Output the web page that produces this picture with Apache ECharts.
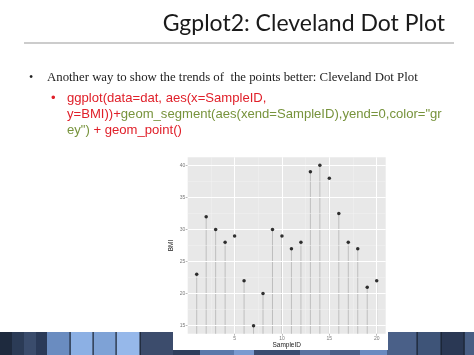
<!DOCTYPE html>
<html><head><meta charset="utf-8">
<script src="https://cdn.jsdelivr.net/npm/echarts@6/dist/echarts.min.js"></script>
<style>html,body{margin:0;padding:0;background:#fff}#c{width:474px;height:355px}</style>
</head><body><div id="c"></div>
<script>
// ---- data ----
const sampleIDs = [1,2,3,4,5,6,7,8,9,10,11,12,13,14,15,16,17,18,19,20];
const bmi = [23,32,30,28,29,22,15,20,30,29,27,28,39,40,38,32.5,28,27,21,22];
const xTicks = [5,10,15,20];
const yTicks = [15,20,25,30,35,40];
const xMinor = [2.5,7.5,12.5,17.5];
const yMinor = [17.5,22.5,27.5,32.5,37.5];
const slideTitle = 'Ggplot2: Cleveland Dot Plot';
const bulletText = 'Another way to show the trends of  the points better: Cleveland Dot Plot';

const pts = sampleIDs.map((x,i)=>[x,bmi[i]]);
const chart = echarts.init(document.getElementById('c'), null, {renderer:'canvas'});

const band = [
 [0,12,'#1e2a3e'],[12,24,'#2b3b56'],[24,36,'#3a4c6c'],[36,47,'#2a3a58'],
 [47,70,'#6a8cc0'],[70,93,'#8cb0e4'],[93,116,'#7ea2d6'],[116,140,'#96b8ea'],
 [140,173,'#3c4c6c'],[173,200,'#2e3e5c'],[200,234,'#5a78aa'],[234,254,'#7a9ad0'],
 [254,300,'#3a4c70'],[300,330,'#5a72a0'],[330,360,'#4a5f88'],[360,387,'#6a8ac0'],
 [387,417,'#4a6088'],[417,441,'#3e5478'],[441,464,'#2a3854'],[464,474,'#485e84']
];
const seps = [70,93,116,140,417,441,464];
const graphics = [];
band.forEach(b=>graphics.push({type:'rect',z:0,shape:{x:b[0],y:332,width:b[1]-b[0],height:23},style:{fill:b[2]},silent:true}));
seps.forEach(s=>graphics.push({type:'rect',z:0,shape:{x:s-0.5,y:332,width:1.2,height:23},style:{fill:'#18202e'},silent:true}));
graphics.push({type:'rect',z:0,zlevel:0,shape:{x:173,y:150,width:215,height:200},style:{fill:'#ffffff'},silent:true});
graphics.push({type:'text',z:1,style:{text:slideTitle,x:445,y:35.5,textAlign:'right',textVerticalAlign:'bottom',font:'23px Lato',fill:'#1a1a1a'}});
graphics.push({type:'rect',z:1,shape:{x:24,y:42.5,width:430,height:1},style:{fill:'#9a9a9a'}});
graphics.push({type:'text',z:1,style:{text:'•',x:29,y:84,textVerticalAlign:'bottom',font:'12px "Liberation Serif"',fill:'#222'}});
graphics.push({type:'text',z:1,style:{text:bulletText,x:47,y:84,textVerticalAlign:'bottom',font:'12.8px "Liberation Serif"',fill:'#222'}});
graphics.push({type:'text',z:1,style:{text:'•',x:51,y:105,textVerticalAlign:'bottom',font:'13px "Liberation Sans"',fill:'#e0202a'}});
const rich = {r:{fill:'#e0202a',font:'13.1px "Liberation Sans"'},g:{fill:'#77933c',font:'13.1px "Liberation Sans"'}};
graphics.push({type:'text',z:1,style:{text:'{r|ggplot(data=dat, aes(x=SampleID,}',rich:rich,x:67,y:98,textVerticalAlign:'middle'}});
graphics.push({type:'text',z:1,style:{text:'{r|y=BMI))+}{g|geom_segment(aes(xend=SampleID),yend=0,color="gr}',rich:rich,x:67,y:114,textVerticalAlign:'middle'}});
graphics.push({type:'text',z:1,style:{text:'{g|ey")}{r| + geom_point()}',rich:rich,x:67,y:130,textVerticalAlign:'middle'}});

const gridMarks = [];
xMinor.forEach(v=>gridMarks.push({xAxis:v,lineStyle:{color:'#f2f2f2',width:0.5,type:'solid'}}));
yMinor.forEach(v=>gridMarks.push({yAxis:v,lineStyle:{color:'#f2f2f2',width:0.5,type:'solid'}}));
xTicks.forEach(v=>gridMarks.push({xAxis:v,lineStyle:{color:'#ffffff',width:1,type:'solid'}}));
yTicks.forEach(v=>gridMarks.push({yAxis:v,lineStyle:{color:'#ffffff',width:1,type:'solid'}}));

chart.setOption({
  animation:false,
  graphic:graphics,
  grid:{left:187.7,top:157.3,width:198,height:176.4,show:true,backgroundColor:'#e8e8e8',borderWidth:0,z:2},
  xAxis:{type:'value',min:0.05,max:20.95,z:3,
    name:'SampleID',nameLocation:'middle',nameGap:8,nameTextStyle:{fontSize:6.5,color:'#222',fontFamily:'Liberation Sans'},
    axisLine:{show:false},splitLine:{show:false},
    axisTick:{show:true,length:2,customValues:xTicks,lineStyle:{color:'#8a8a8a',width:0.6}},
    axisLabel:{customValues:xTicks,fontSize:5,color:'#7a7a7a',margin:2.5,fontFamily:'Liberation Sans'}},
  yAxis:{type:'value',min:13.75,max:41.25,z:3,
    name:'BMI',nameLocation:'middle',nameGap:12.5,nameRotate:90,nameTextStyle:{fontSize:6.5,color:'#222',fontFamily:'Liberation Sans'},
    axisLine:{show:false},splitLine:{show:false},
    axisTick:{show:true,length:2,customValues:yTicks,lineStyle:{color:'#8a8a8a',width:0.6}},
    axisLabel:{customValues:yTicks,fontSize:5,color:'#7a7a7a',margin:2.5,fontFamily:'Liberation Sans'}},
  series:[
    {type:'line',data:[],z:3,silent:true,markLine:{silent:true,symbol:['none','none'],label:{show:false},lineStyle:{type:'solid'},data:gridMarks,animation:false}},
    {type:'bar',data:pts,barWidth:1,z:4,itemStyle:{color:'#bebebe'},silent:true},
    {type:'scatter',data:pts,symbolSize:3.5,z:5,itemStyle:{color:'#000'},silent:true}
  ]
});
</script></body></html>
